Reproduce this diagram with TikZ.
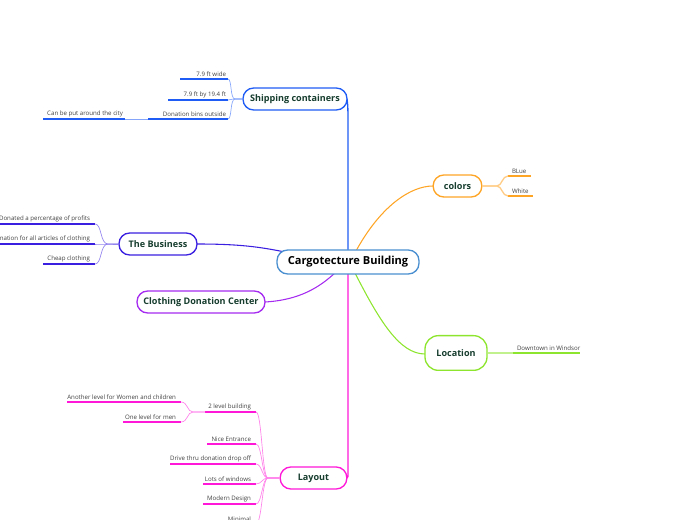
\documentclass[tikz,border=0pt]{standalone}
\usepackage{fontspec}
\setmainfont{Open Sans}
\begin{document}
\begin{tikzpicture}[x=0.75pt,y=-0.75pt,
 br/.style={draw=#1,line width=1pt,rounded corners=8pt,minimum height=16.5pt,fill=white,text=lbl,font=\fontsize{6.8}{8}\selectfont\bfseries,inner xsep=0pt},
 lf/.style={font=\fontsize{4.6}{6}\selectfont,text=black!75,anchor=south east,inner sep=1.3pt},
 ul/.style={line width=1.3pt,draw=#1},
 cn/.style={line width=0.8pt,draw=#1},
 fk/.style={line width=0.5pt,draw=#1!55}]
\definecolor{lbl}{HTML}{163D2E}
\definecolor{cb}{HTML}{1F5CF5}
\definecolor{ci}{HTML}{3A1FE0}
\definecolor{cp}{HTML}{A52BF0}
\definecolor{co}{HTML}{FFA526}
\definecolor{cg}{HTML}{8EE52E}
\definecolor{cm}{HTML}{FF18D8}
\definecolor{cc}{HTML}{4A90D0}
\useasboundingbox (0,0) rectangle (697,520);
\begin{scope}[yshift=-1.5pt]
% connectors from centre
\draw[cn=cb,line width=1pt] (347,97) .. controls (348,105) .. (348,130) -- (348,255);
\draw[cn=cm,line width=1pt] (348,265) -- (348,465) .. controls (348,476) .. (347,476);
\draw[cn=ci] (197,242) .. controls (240,242) and (260,245) .. (285,250);
\draw[cn=cp] (265,300) .. controls (300,298) and (320,285) .. (336,270);
\draw[cn=co] (356,249) .. controls (380,205) and (410,184) .. (433,184);
\draw[cn=cg] (355,271) .. controls (380,320) and (400,352) .. (425,352);
% nodes
\node[br=cc,minimum width=106.5pt,minimum height=18pt,font=\fontsize{8.3}{10}\selectfont\bfseries,text=black] (c) at (348,260) {Cargotecture Building};
\node[br=cb,minimum width=78pt] (sc) at (295,97) {Shipping containers};
\node[br=ci,minimum width=58.5pt] (tb) at (158,242) {The Business};
\node[br=cp,minimum width=96pt] (cd) at (201,300) {Clothing Donation Center};
\node[br=co,minimum width=36.5pt] (co) at (457.5,184) {colors};
\node[br=cg,minimum width=46.5pt,minimum height=26pt,rounded corners=10pt] (lo) at (456,351) {Location};
\node[br=cm,minimum width=50pt] (la) at (313.5,476) {Layout};
% shipping leaves
\foreach \y/\x/\t [count=\i] in {77/180/7.9 ft wide,98/168/7.9 ft by 19.4 ft,117/148/Donation bins outside}{
 \coordinate (s\i) at (228,\y);
 \draw[ul=cb] (\x,\y) -- (s\i); \node[lf] at (228,\y) {\t};
 \draw[fk=cb] (sc.west) -- (235,97) .. controls (230,97) and (232,\y) .. (s\i);}
\coordinate (s4) at (125,117);
\draw[ul=cb] (43,117) -- (s4); \node[lf] at (125,117) {Can be put around the city};
\draw[fk=cb] (148,117) -- (s4);
% business leaves
\foreach \y/\x/\t [count=\i] in {222/0/Donated a percentage of profits,242/0/Donation for all articles of clothing,262/43/Cheap clothing}{
 \coordinate (b\i) at (95,\y);
 \draw[ul=ci] (\x,\y) -- (b\i); \node[lf] at (92,\y) {\t};
 \draw[fk=ci] (tb.west) -- (108,242) .. controls (100,242) and (102,\y) .. (b\i);}
% colors leaves
\foreach \y/\x/\t [count=\i] in {174/531/BLue,194/533/White}{
 \coordinate (k\i) at (508,\y);
 \draw[ul=co] (k\i) -- (\x,\y); \node[lf,anchor=south west] at (510,\y) {\t};
 \draw[fk=co,line width=1pt] (co.east) -- (497,184) .. controls (502,184) and (502,\y) .. (k\i);}
% location leaf
\coordinate (g1) at (513,351);
\draw[ul=cg] (g1) -- (580,351); \node[lf,anchor=south west] at (515,351) {Downtown in Windsor};
\draw[fk=cg,line width=1pt] (lo.east) -- (g1);
% layout leaves
\foreach \y/\x/\t [count=\i] in {410/205/2 level building,442/207/Nice Entrance,462/170/Drive thru donation drop off,482/203/Lots of windows,502/203/Modern Design,522/225/Minimal}{
 \coordinate (l\i) at (256,\y);
 \draw[ul=cm] (\x,\y) -- (l\i); \node[lf] at (253,\y) {\t};
 \draw[fk=cm] (la.west) -- (268,476) .. controls (262,476) and (262,\y) .. (l\i);}
\foreach \y/\x/\t [count=\i] in {400/67/Another level for Women and children,420/123/One level for men}{
 \coordinate (m\i) at (181,\y);
 \draw[ul=cm] (\x,\y) -- (m\i); \node[lf] at (178,\y) {\t};
 \draw[fk=cm] (205,410) -- (193,410) .. controls (187,410) and (188,\y) .. (m\i);}
\end{scope}
\end{tikzpicture}
\end{document}
